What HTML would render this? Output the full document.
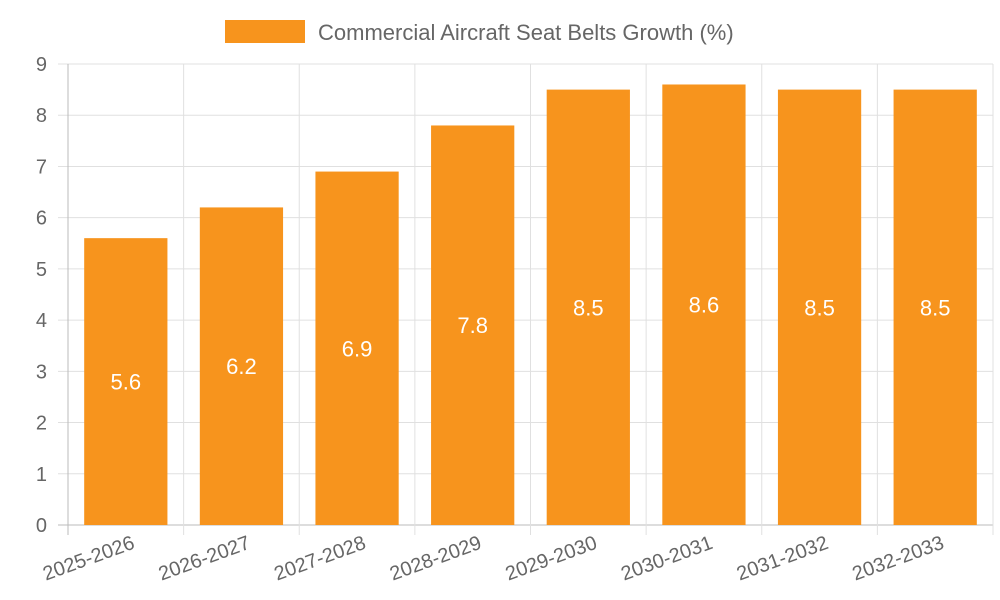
<!DOCTYPE html>
<html><head><meta charset="utf-8"><style>
html,body{margin:0;padding:0;background:#fff;}
svg{display:block;font-family:"Liberation Sans",sans-serif;}
</style></head><body>
<svg id="chart" width="1000" height="600"></svg>
<script>
const categories=["2025-2026","2026-2027","2027-2028","2028-2029","2029-2030","2030-2031","2031-2032","2032-2033"];
const values=[5.6,6.2,6.9,7.8,8.5,8.6,8.5,8.5];
const yTicks=[0,1,2,3,4,5,6,7,8,9];
const seriesName="Commercial Aircraft Seat Belts Growth (%)";
const NS="http://www.w3.org/2000/svg";
const svg=document.getElementById('chart');
const L=68,R=993,T=64,B=525,yMax=9;
const bw=(R-L)/categories.length;
const y=v=>B-(v/yMax)*(B-T);
const x=i=>L+i*bw;
function mk(tag,attrs,parent){const e=document.createElementNS(NS,tag);for(const k in attrs)e.setAttribute(k,attrs[k]);(parent||svg).appendChild(e);return e;}
// legend
const lg=mk('g',{});


mk('rect',{x:225,y:20,width:80,height:23,fill:'#f7941d'},lg);
const lt=mk('text',{x:318,y:40,'font-size':22,fill:'#666'},lg);lt.textContent=seriesName;
// grid
yTicks.forEach(t=>{
  const g=mk('line',{x1:58,x2:R,y1:y(t),y2:y(t),stroke:t===0?'#bbb':'#e0e0e0','stroke-width':1});
  
  
  const tx=mk('text',{x:47,y:y(t)+7,'font-size':20,fill:'#666','text-anchor':'end'});
  
  
  tx.textContent=t;
});
for(let i=0;i<=categories.length;i++){
  const g=mk('line',{x1:x(i),x2:x(i),y1:T,y2:B+10,stroke:i===0?'#bbb':'#e0e0e0','stroke-width':1});
  
  
}
// bars
values.forEach((v,i)=>{
  const cx=x(i)+bw/2, w=bw*0.72;
  const r=mk('rect',{x:cx-w/2,y:y(v),width:w,height:B-y(v),fill:'#f7941d'});
  
  
  const t=mk('text',{x:cx,y:(y(v)+B)/2+8,'font-size':22,fill:'#fff','text-anchor':'middle'});
  
  
  t.textContent=v;
  const xl=mk('text',{x:cx+10,y:548,'font-size':20,fill:'#666','text-anchor':'end',transform:`rotate(-20 ${cx+10} 548)`});
  
  
  xl.textContent=categories[i];
});
</script>
</body></html>
